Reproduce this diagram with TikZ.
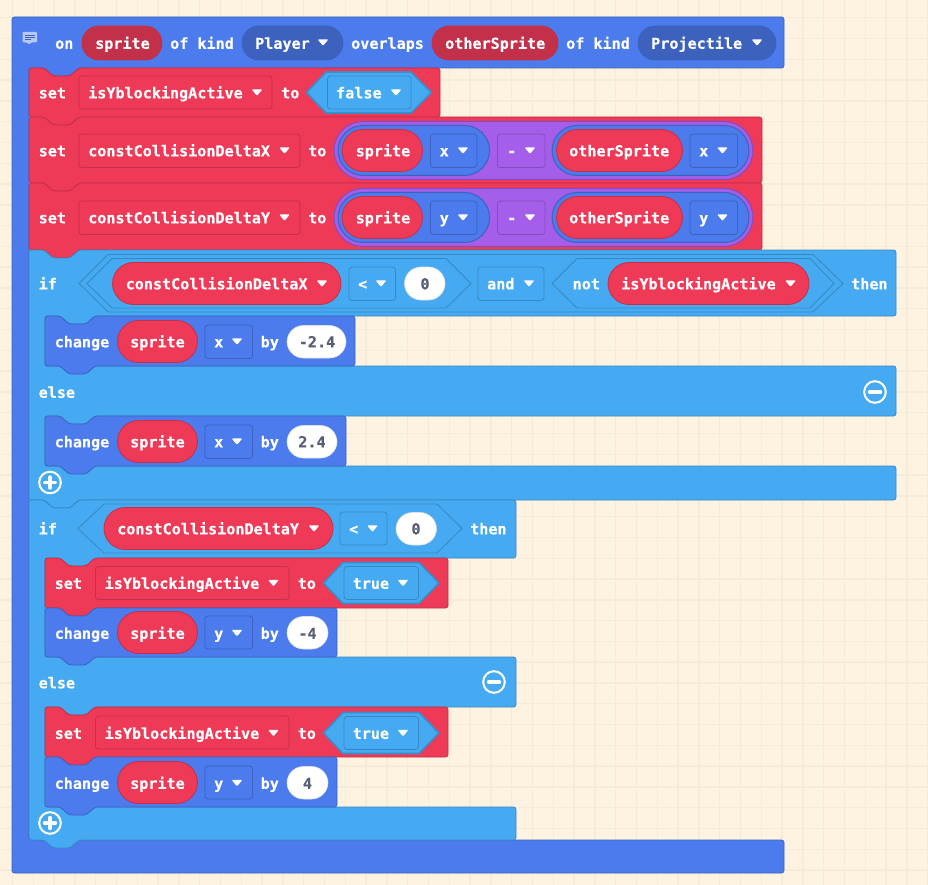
\documentclass[tikz,border=0pt]{standalone}
\usepackage{fontspec}
\newfontfamily\blockfont{DejaVu Sans Mono}[UprightFont=* Bold,FakeBold=0.3]
\usepackage{tikz}
\definecolor{paper}{HTML}{FEF2E0}
\definecolor{gridtone}{HTML}{F6EAD8}
\definecolor{redblock}{HTML}{EE3A57}
\definecolor{redline}{HTML}{C3304A}
\definecolor{blueblock}{HTML}{4B7BEC}
\definecolor{blueline}{HTML}{3C62BD}
\definecolor{skyblock}{HTML}{45AAF2}
\definecolor{skyline}{HTML}{3788C2}
\definecolor{purpleblock}{HTML}{A55EEA}
\definecolor{purpleline}{HTML}{844BBB}
\definecolor{slatetext}{HTML}{575E75}
\tikzset{
	lbl/.style={anchor=base west,inner sep=0pt,yshift=-0.8pt,text=white,font=\fontsize{15.1}{18}\blockfont},
	numlbl/.style={anchor=base,inner sep=0pt,yshift=-0.8pt,text=slatetext,font=\fontsize{15.1}{18}\blockfont},
	redbody/.style={fill=redblock,draw=redline,line width=0.8pt,rounded corners=2.5pt},
	bluebody/.style={fill=blueblock,draw=blueline,line width=0.8pt,rounded corners=2.5pt},
	skybody/.style={fill=skyblock,draw=skyline,line width=0.8pt,rounded corners=2.5pt},
	ddred/.style={fill=redblock,draw=redline,line width=0.8pt,rounded corners=3pt},
	ddblue/.style={fill=blueblock,draw=blueline,line width=0.8pt,rounded corners=3pt},
	ddsky/.style={fill=skyblock,draw=skyline,line width=0.8pt,rounded corners=3pt},
	ddpurple/.style={fill=purpleblock,draw=purpleline,line width=0.8pt,rounded corners=3pt},
	redpill/.style={fill=redblock,draw=redline,line width=0.8pt,rounded corners=21pt},
	hatred/.style={fill=redline,draw=redline,line width=0.8pt,rounded corners=17pt},
	hatblue/.style={fill=blueline,draw=blueline,line width=0.8pt,rounded corners=17pt},
	whitepill/.style={fill=white,draw=black!12,line width=0.6pt,rounded corners=16.5pt},
	purplepill/.style={fill=purpleblock,draw=purpleline,line width=1pt,rounded corners=29pt},
	bluepill/.style={fill=blueblock,draw=blueline,line width=1pt,rounded corners=25pt},
	hexsky/.style={fill=skyblock,draw=skyline,line width=0.8pt},
	valuehex/.style={fill=skyblock,draw=skyline!85!skyblock,line width=1.6pt},
	tick/.style={white,line width=3.4pt,line cap=round},
	ring/.style={draw=white,line width=2pt}
}
\newcommand{\stmtblock}[5]{\draw[#1] (#2,#3) -- (#2+15,#3) -- (#2+24,#3+8) -- (#2+41,#3+8) -- (#2+50,#3) -- (#4,#3) -- (#4,#5) -- (#2+50,#5) -- (#2+41,#5+8) -- (#2+24,#5+8) -- (#2+15,#5) -- (#2,#5) -- cycle;}
\newcommand{\ifblock}[7]{\draw[skybody] (29,#2) -- (44,#2) -- (53,#2+8) -- (70,#2+8) -- (79,#2) -- (#1,#2) -- (#1,#3) -- (95,#3) -- (86,#3+8) -- (69,#3+8) -- (60,#3) -- (45,#3) -- (45,#4) -- (#1,#4) -- (#1,#5) -- (95,#5) -- (86,#5+8) -- (69,#5+8) -- (60,#5) -- (45,#5) -- (45,#6) -- (#1,#6) -- (#1,#7) -- (79,#7) -- (70,#7+8) -- (53,#7+8) -- (44,#7) -- (29,#7) -- cycle;}
\newcommand{\droptri}[2]{\fill[white,rounded corners=1pt] (#1-5.4,#2-3.2) -- (#1+5.4,#2-3.2) -- (#1,#2+3.4) -- cycle;}
\begin{document}
\begin{tikzpicture}[x=1pt,y=-1pt]
	\useasboundingbox (0,0) rectangle (928,885);
	\fill[paper] (0,0) rectangle (928,885);
	\foreach \gx in {0,...,44} \draw[gridtone,line width=1.4pt] (12.4+20.8*\gx,0) -- (12.4+20.8*\gx,885);
	\foreach \gy in {0,...,41} \draw[gridtone,line width=1.4pt] (0,17.7+20.79*\gy) -- (928,17.7+20.79*\gy);
	% outer event block
	\draw[bluebody] (12,17) -- (784,17) -- (784,68) -- (79,68) -- (70,76) -- (53,76) -- (44,68) -- (29,68) -- (29,840) -- (784,840) -- (784,873) -- (12,873) -- cycle;
	\fill[blueblock!40!white,rounded corners=1pt] (22.5,32) -- (37,32) -- (37,42.5) -- (31,42.5) -- (29,44.5) -- (27,42.5) -- (22.5,42.5) -- cycle;
	\draw[blueline,line width=0.9pt] (25,35) -- (34.5,35) (25,37.4) -- (34.5,37.4) (25,39.8) -- (31,39.8);
	\draw (55,48) node[lbl] (onword) {on};
	\draw[hatred] (82,26) rectangle (162,60);
	\draw (95,48) node[lbl] (hatsprite) {sprite};
	\draw (170,48) node[lbl] (ofkindA) {of kind};
	\draw[hatblue] (242,26) rectangle (343,60);
	\draw (255,48) node[lbl] (playerkind) {Player};
	\droptri{323}{42.5}
	\draw (351,48) node[lbl] (overlapsword) {overlaps};
	\draw[hatred] (432,26) rectangle (558,60);
	\draw (445,48) node[lbl] (hatother) {otherSprite};
	\draw (566,48) node[lbl] (ofkindB) {of kind};
	\draw[hatblue] (638,26) rectangle (776,60);
	\draw (651,48) node[lbl] (projectilekind) {Projectile};
	\droptri{757}{42.5}
	% set isYblockingActive
	\stmtblock{redbody}{29}{68}{440}{117}
	\draw (38.5,97.5) node[lbl] (setA) {set};
	\draw[ddred] (79,76) rectangle (272,109);
	\draw (88,97.5) node[lbl] (varblockA) {isYblockingActive};
	\droptri{257}{92.5}
	\draw (281,97.5) node[lbl] (toA) {to};
	\draw[valuehex] (306.5,92.5) -- (326,72) -- (411,72) -- (431.5,92.5) -- (411,113) -- (326,113) -- cycle;
	\draw[ddsky] (327.5,76) rectangle (411,109);
	\draw (336,97.5) node[lbl] (falseval) {false};
	\droptri{396}{92.5}
	% set constCollisionDeltaX
	\stmtblock{redbody}{29}{117}{762}{183}
	\draw (38.5,155.5) node[lbl] (setB) {set};
	\draw[ddred] (79,134) rectangle (300,167.5);
	\draw (88,155.5) node[lbl] (varDeltaX) {constCollisionDeltaX};
	\droptri{284.5}{150.5}
	\draw (308,155.5) node[lbl] (toB) {to};
	\draw[purplepill] (334,121.5) rectangle (753,179.5);
	\draw[bluepill] (338,125.5) rectangle (489.5,175.5);
	\draw[redpill] (342,129.5) rectangle (422.5,171.5);
	\draw (355.5,155.5) node[lbl] (spriteB) {sprite};
	\draw[ddblue] (430.5,134) rectangle (477,167.5);
	\draw (439.5,155.5) node[lbl] (propB) {x};
	\droptri{463}{150.5}
	\draw[ddpurple] (497.5,134) rectangle (545,167.5);
	\draw (507,155.5) node[lbl] (minusB) {-};
	\droptri{530}{150.5}
	\draw[bluepill] (552,125.5) rectangle (749,175.5);
	\draw[redpill] (556.5,129.5) rectangle (682.5,171.5);
	\draw (569,155.5) node[lbl] (otherB) {otherSprite};
	\draw[ddblue] (690,134) rectangle (737.5,167.5);
	\draw (699,155.5) node[lbl] (propBB) {x};
	\droptri{722.5}{150.5}
	% set constCollisionDeltaY
	\stmtblock{redbody}{29}{183}{762}{250}
	\draw (38.5,222.5) node[lbl] (setC) {set};
	\draw[ddred] (79,201) rectangle (300,234.5);
	\draw (88,222.5) node[lbl] (varDeltaY) {constCollisionDeltaY};
	\droptri{284.5}{217.5}
	\draw (308,222.5) node[lbl] (toC) {to};
	\draw[purplepill] (334,188.5) rectangle (753,246.5);
	\draw[bluepill] (338,192.5) rectangle (489.5,242.5);
	\draw[redpill] (342,196.5) rectangle (422.5,238.5);
	\draw (355.5,222.5) node[lbl] (spriteC) {sprite};
	\draw[ddblue] (430.5,201) rectangle (477,234.5);
	\draw (439.5,222.5) node[lbl] (propC) {y};
	\droptri{463}{217.5}
	\draw[ddpurple] (497.5,201) rectangle (545,234.5);
	\draw (507,222.5) node[lbl] (minusC) {-};
	\droptri{530}{217.5}
	\draw[bluepill] (552,192.5) rectangle (749,242.5);
	\draw[redpill] (556.5,196.5) rectangle (682.5,238.5);
	\draw (569,222.5) node[lbl] (otherC) {otherSprite};
	\draw[ddblue] (690,201) rectangle (737.5,234.5);
	\draw (699,222.5) node[lbl] (propCC) {y};
	\droptri{722.5}{217.5}
	% first if
	\ifblock{896}{250}{316}{366}{416}{466}{500}
	\draw (38.5,288.5) node[lbl] (ifA) {if};
	\draw[hexsky] (79,283.5) -- (108,254.5) -- (813,254.5) -- (843,283.5) -- (813,312) -- (108,312) -- cycle;
	\draw[hexsky] (87,283.5) -- (112,258.5) -- (446,258.5) -- (471,283.5) -- (446,308) -- (112,308) -- cycle;
	\draw[hexsky] (552,283.5) -- (577,258.5) -- (810,258.5) -- (834,283.5) -- (810,308) -- (577,308) -- cycle;
	\draw[redpill] (112.5,262.5) rectangle (341,304.5);
	\draw (125.5,288.5) node[lbl] (condX) {constCollisionDeltaX};
	\droptri{322}{283.5}
	\draw[ddsky] (349,267) rectangle (395.5,300.5);
	\draw (358,288.5) node[lbl] (ltA) {<};
	\droptri{381}{283.5}
	\draw[whitepill] (404.5,267) rectangle (445,300);
	\draw (425,288.5) node[numlbl] (zeroA) {0};
	\draw[ddsky] (478,267) rectangle (544,300.5);
	\draw (487,288.5) node[lbl] (andword) {and};
	\droptri{529}{283.5}
	\draw (572.5,288.5) node[lbl] (notword) {not};
	\draw[redpill] (608,262.5) rectangle (809,304.5);
	\draw (621,288.5) node[lbl] (condblock) {isYblockingActive};
	\droptri{790.5}{283.5}
	\draw (851,288.5) node[lbl] (thenA) {then};
	% change x by -2.4
	\stmtblock{bluebody}{45}{316}{355}{366}
	\draw (54.5,346.5) node[lbl] (changeA) {change};
	\draw[redpill] (117.5,320.5) rectangle (197.5,362.5);
	\draw (130,346.5) node[lbl] (spriteD) {sprite};
	\draw[ddblue] (205,325) rectangle (252.5,358.5);
	\draw (214,346.5) node[lbl] (propD) {x};
	\droptri{237}{341.5}
	\draw (260.5,346.5) node[lbl] (byA) {by};
	\draw[whitepill] (287,325.5) rectangle (346,358);
	\draw (317,346.5) node[numlbl] (stepA) {-2.4};
	% first else
	\draw (38.5,397) node[lbl] (elseA) {else};
	\draw[ring] (875,392) circle (10.8);
	\draw[tick] (869.5,392) -- (880.5,392);
	% change x by 2.4
	\stmtblock{bluebody}{45}{416}{346}{466}
	\draw (54.5,446.5) node[lbl] (changeB) {change};
	\draw[redpill] (117.5,420.5) rectangle (197.5,462.5);
	\draw (130,446.5) node[lbl] (spriteE) {sprite};
	\draw[ddblue] (205,425) rectangle (252.5,458.5);
	\draw (214,446.5) node[lbl] (propE) {x};
	\droptri{237}{441.5}
	\draw (260.5,446.5) node[lbl] (byB) {by};
	\draw[whitepill] (287,425.5) rectangle (337,458);
	\draw (312,446.5) node[numlbl] (stepB) {2.4};
	\draw[ring] (50,482.5) circle (10.8);
	\draw[tick] (44.5,482.5) -- (55.5,482.5) (50,477) -- (50,488);
	% second if
	\ifblock{516}{500}{558}{657}{707}{807}{840}
	\draw (38.5,533.5) node[lbl] (ifB) {if};
	\draw[hexsky] (78,528.5) -- (104,504) -- (437,504) -- (462,528.5) -- (437,553) -- (104,553) -- cycle;
	\draw[redpill] (104,507.5) rectangle (333,549.5);
	\draw (117,533.5) node[lbl] (condY) {constCollisionDeltaY};
	\droptri{314}{528.5}
	\draw[ddsky] (340,512) rectangle (387,545);
	\draw (349,533.5) node[lbl] (ltB) {<};
	\droptri{372.5}{528.5}
	\draw[whitepill] (396,512.5) rectangle (436.5,545);
	\draw (416,533.5) node[numlbl] (zeroB) {0};
	\draw (470,533.5) node[lbl] (thenB) {then};
	% set true, change y by -4
	\stmtblock{redbody}{45}{558}{448}{608}
	\draw (54.5,588) node[lbl] (setD) {set};
	\draw[ddred] (95.5,566.5) rectangle (289,599.5);
	\draw (104.5,588) node[lbl] (varblockB) {isYblockingActive};
	\droptri{273.5}{583}
	\draw (297.5,588) node[lbl] (toD) {to};
	\draw[valuehex] (323.5,583) -- (343,562.5) -- (419,562.5) -- (439,583) -- (419,603.5) -- (343,603.5) -- cycle;
	\draw[ddsky] (344,566.5) rectangle (418.5,599.5);
	\draw (352.5,588) node[lbl] (trueA) {true};
	\droptri{403}{583}
	\stmtblock{bluebody}{45}{608}{337}{657}
	\draw (54.5,638) node[lbl] (changeC) {change};
	\draw[redpill] (117.5,611.5) rectangle (197.5,653.5);
	\draw (130,638) node[lbl] (spriteF) {sprite};
	\draw[ddblue] (205,616) rectangle (252.5,649);
	\draw (214,638) node[lbl] (propF) {y};
	\droptri{237}{633}
	\draw (260.5,638) node[lbl] (byC) {by};
	\draw[whitepill] (287,616.5) rectangle (328,649);
	\draw (307.5,638) node[numlbl] (stepC) {-4};
	% second else
	\draw (38.5,687.5) node[lbl] (elseB) {else};
	\draw[ring] (494,682) circle (10.8);
	\draw[tick] (488.5,682) -- (499.5,682);
	% set true, change y by 4
	\stmtblock{redbody}{45}{707}{448}{757}
	\draw (54.5,738) node[lbl] (setE) {set};
	\draw[ddred] (95.5,716) rectangle (289,749);
	\draw (104.5,738) node[lbl] (varblockC) {isYblockingActive};
	\droptri{273.5}{733}
	\draw (297.5,738) node[lbl] (toE) {to};
	\draw[valuehex] (323.5,733) -- (343,712.5) -- (419,712.5) -- (439,733) -- (419,753.5) -- (343,753.5) -- cycle;
	\draw[ddsky] (344,716.5) rectangle (418.5,749.5);
	\draw (352.5,738) node[lbl] (trueB) {true};
	\droptri{403}{733}
	\stmtblock{bluebody}{45}{757}{337}{807}
	\draw (54.5,788) node[lbl] (changeD) {change};
	\draw[redpill] (117.5,761.5) rectangle (197.5,803.5);
	\draw (130,788) node[lbl] (spriteG) {sprite};
	\draw[ddblue] (205,766) rectangle (252.5,799);
	\draw (214,788) node[lbl] (propG) {y};
	\droptri{237}{783}
	\draw (260.5,788) node[lbl] (byD) {by};
	\draw[whitepill] (287,766.5) rectangle (328,799);
	\draw (307.5,788) node[numlbl] (stepD) {4};
	\draw[ring] (50,823) circle (10.8);
	\draw[tick] (44.5,823) -- (55.5,823) (50,817.5) -- (50,828.5);
\end{tikzpicture}
\end{document}
